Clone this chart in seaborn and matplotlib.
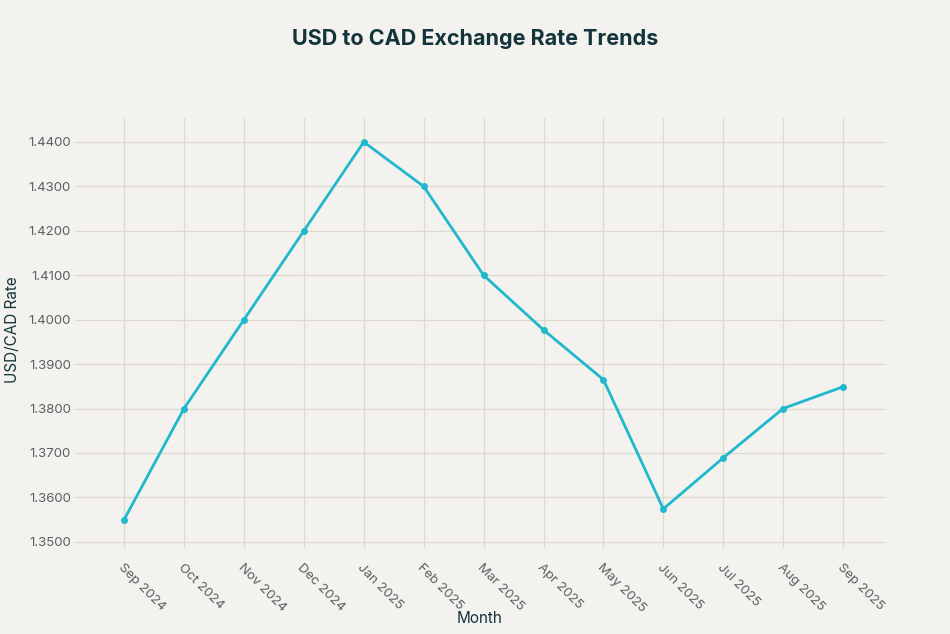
import matplotlib
matplotlib.use("Agg")
import matplotlib.pyplot as plt
import seaborn as sns
import pandas as pd

months = ["Sep 2024", "Oct 2024", "Nov 2024", "Dec 2024", "Jan 2025", "Feb 2025",
          "Mar 2025", "Apr 2025", "May 2025", "Jun 2025", "Jul 2025", "Aug 2025", "Sep 2025"]
rates = [1.3550, 1.3800, 1.4000, 1.4200, 1.4400, 1.4300, 1.4100, 1.3977, 1.3865,
         1.3574, 1.3689, 1.3800, 1.3849]
yticks = [1.35, 1.36, 1.37, 1.38, 1.39, 1.40, 1.41, 1.42, 1.43, 1.44]

bg = "#F3F2EE"
sns.set_theme(style="whitegrid")
plt.rcParams["font.family"] = ["Inter", "DejaVu Sans"]

df = pd.DataFrame({"Month": months, "Rate": rates})
df["idx"] = range(len(months))

fig = plt.figure(figsize=(9.5, 6.34), dpi=100, facecolor=bg)
ax = fig.add_axes([75/950, (634-548)/634, (885-75)/950, (548-118)/634])
ax.set_facecolor(bg)

sns.lineplot(data=df, x="idx", y="Rate", ax=ax, color="#1FB8CD", linewidth=2,
             marker="o", markersize=5, markeredgewidth=0)

ax.set_xlim(-0.82, 12.7)
ax.set_ylim(1.3486, 1.4454)
ax.set_xticks(range(len(months)))
ax.set_xticklabels(months, rotation=-45, ha="left", rotation_mode="anchor")
ax.set_yticks(yticks)
ax.set_yticklabels([f"{v:.4f}" for v in yticks])
ax.tick_params(axis="both", colors="#5A5F61", labelsize=9.5, length=0)
ax.tick_params(axis="y", pad=3)
ax.tick_params(axis="x", pad=10)
ax.grid(True, color="#DDDACD", linewidth=0.9)
for s in ax.spines.values():
    s.set_visible(False)
ax.set_xlabel("Month", color="#13343B", fontsize=11)
ax.set_ylabel("USD/CAD Rate", color="#13343B", fontsize=11)
ax.xaxis.set_label_coords(0.5, -0.147)
ax.yaxis.set_label_coords(-0.068, 0.507)
fig.suptitle("USD to CAD Exchange Rate Trends", x=0.5, y=0.955, fontsize=15.5,
             fontweight="bold", color="#13343B")

fig.savefig("out.png", dpi=100, facecolor=bg)
